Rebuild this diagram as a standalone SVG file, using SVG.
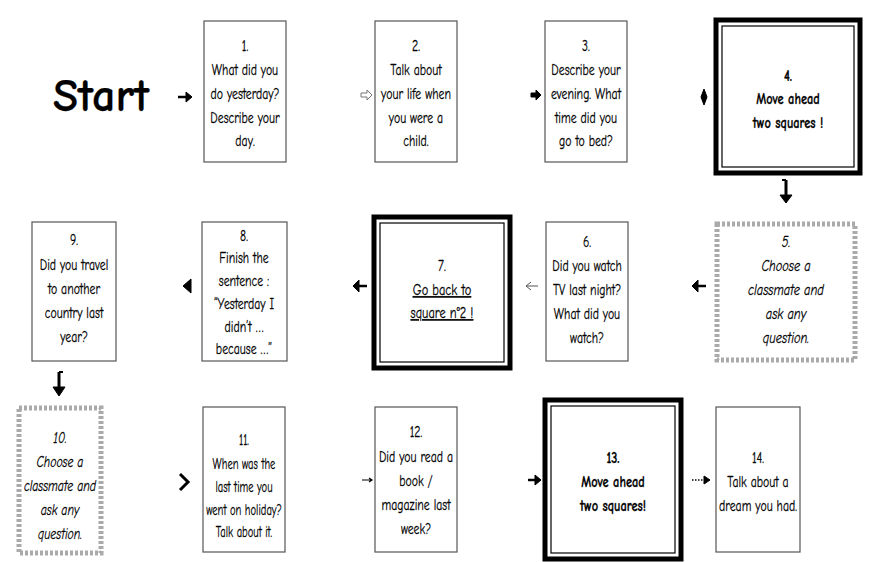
<svg xmlns="http://www.w3.org/2000/svg" width="881" height="562" viewBox="0 0 881 562">
<defs>
<style>
text{font-family:"Comic Neue","Liberation Sans",sans-serif;font-size:15.5px;fill:#000;text-anchor:middle;stroke:#000;stroke-width:0.25}
.b{fill:#fff;stroke:#555;stroke-width:1.2}
.tk{fill:#fff;stroke:#000;stroke-width:5}
.ti{fill:none;stroke:#000;stroke-width:1.2}
.h{fill:#fff;stroke:#aaa;stroke-width:5;stroke-dasharray:3 2}
.bo{font-weight:bold}
.it{font-style:italic}
.ar{fill:#000;stroke:#000}
</style>
</defs>
<rect width="881" height="562" fill="#fff"/>
<text x="101" y="111" style="font-size:46px;font-weight:bold">Start</text>

<g id="n1"><rect class="b" x="204" y="21" width="82" height="141"/>
<g transform="translate(245,0) scale(0.76,1)"><text x="0" y="51">1.</text><text x="0" y="75">What did you</text><text x="0" y="99">do yesterday?</text><text x="0" y="123">Describe your</text><text x="0" y="146">day.</text></g></g>
<g id="n2"><rect class="b" x="375" y="21" width="82" height="141"/>
<g transform="translate(416,0) scale(0.76,1)"><text x="0" y="51">2.</text><text x="0" y="75">Talk about</text><text x="0" y="99">your life when</text><text x="0" y="123">you were a</text><text x="0" y="146">child.</text></g></g>
<g id="n3"><rect class="b" x="545" y="21" width="82" height="141"/>
<g transform="translate(586,0) scale(0.76,1)"><text x="0" y="51">3.</text><text x="0" y="75">Describe your</text><text x="0" y="99">evening. What</text><text x="0" y="123">time did you</text><text x="0" y="146">go to bed?</text></g></g>
<g id="n4"><rect class="tk" x="716" y="20" width="144" height="153"/><rect class="ti" x="722" y="26" width="132" height="141"/>
<g transform="translate(788,0) scale(0.8,1)"><text class="bo" x="0" y="81">4.</text><text class="bo" x="0" y="104">Move ahead</text><text class="bo" x="0" y="128">two squares !</text></g></g>

<g id="n5"><rect class="h" x="717" y="224" width="138" height="136"/>
<g transform="translate(786,0) scale(0.8,1)"><text class="it" x="0" y="247">5.</text><text class="it" x="0" y="271">Choose a</text><text class="it" x="0" y="295">classmate and</text><text class="it" x="0" y="319">ask any</text><text class="it" x="0" y="343">question.</text></g></g>
<g id="n6"><rect class="b" x="546" y="222" width="82" height="139"/>
<g transform="translate(587,0) scale(0.76,1)"><text x="0" y="247">6.</text><text x="0" y="271">Did you watch</text><text x="0" y="295">TV last night?</text><text x="0" y="319">What did you</text><text x="0" y="343">watch?</text></g></g>
<g id="n7"><rect class="tk" x="374" y="217" width="136" height="151"/><rect class="ti" x="380" y="223" width="124" height="139"/>
<g transform="translate(442,0) scale(0.8,1)"><text x="0" y="271">7.</text><text x="0" y="295" text-decoration="underline">Go back to</text><text x="0" y="318" text-decoration="underline">square n°2 !</text></g></g>
<g id="n8"><rect class="b" x="202" y="222" width="85" height="139"/>
<g transform="translate(244,0) scale(0.76,1)" style="font-size:14px"><text x="0" y="241">8.</text><text x="0" y="263">Finish the</text><text x="0" y="286">sentence :</text><text x="0" y="309">“Yesterday I</text><text x="0" y="332">didn’t …</text><text x="0" y="354">because …”</text></g></g>
<g id="n9"><rect class="b" x="32" y="222" width="84" height="139"/>
<g transform="translate(74,0) scale(0.76,1)"><text x="0" y="245">9.</text><text x="0" y="270">Did you travel</text><text x="0" y="294">to another</text><text x="0" y="318">country last</text><text x="0" y="342">year?</text></g></g>

<g id="n10"><rect class="h" x="19" y="408" width="82" height="145"/>
<g transform="translate(60,0) scale(0.76,1)"><text class="it" x="0" y="443">10.</text><text class="it" x="0" y="467">Choose a</text><text class="it" x="0" y="491">classmate and</text><text class="it" x="0" y="515">ask any</text><text class="it" x="0" y="539">question.</text></g></g>
<g id="n11"><rect class="b" x="203" y="407" width="82" height="145"/>
<g transform="translate(244,0) scale(0.68,1)"><text x="0" y="445">11.</text><text x="0" y="469">When was the</text><text x="0" y="492">last time you</text><text x="0" y="515">went on holiday?</text><text x="0" y="537">Talk about it.</text></g></g>
<g id="n12"><rect class="b" x="375" y="407" width="82" height="145"/>
<g transform="translate(416,0) scale(0.76,1)"><text x="0" y="437">12.</text><text x="0" y="462">Did you read a</text><text x="0" y="486">book /</text><text x="0" y="510">magazine last</text><text x="0" y="534">week?</text></g></g>
<g id="n13"><rect class="tk" x="545" y="400" width="136" height="159"/><rect class="ti" x="551" y="406" width="124" height="147"/>
<g transform="translate(613,0) scale(0.8,1)"><text class="bo" x="0" y="463">13.</text><text class="bo" x="0" y="487">Move ahead</text><text class="bo" x="0" y="511">two squares!</text></g></g>
<g id="n14"><rect class="b" x="716" y="407" width="84" height="145"/>
<g transform="translate(758,0) scale(0.76,1)"><text x="0" y="463">14.</text><text x="0" y="487">Talk about a</text><text x="0" y="511">dream you had.</text></g></g>

<g id="connectors">
<path d="M178 97H189" stroke="#000" stroke-width="2.5"/><path class="ar" d="M186 92L192 97L186 102Z"/>
<path d="M361 93H367V90L372 95L367 100V97H361Z" fill="none" stroke="#777" stroke-width="1"/>
<path class="ar" d="M531 93H536V90L541 95L536 100V97H531Z"/>
<path class="ar" d="M701 97L704 89L707 97L704 105Z"/>
<path d="M786 180V197" stroke="#000" stroke-width="3"/><path d="M782 180H786" stroke="#000" stroke-width="2"/><path class="ar" d="M780 195H792L786 203Z"/>
<path d="M693 286H706" stroke="#000" stroke-width="2.5"/><path class="ar" d="M698 280L692 286L698 292Z"/>
<path d="M526 286H538M531 282L526 286L531 290" fill="none" stroke="#555" stroke-width="1"/>
<path d="M354 286H367" stroke="#000" stroke-width="2.5"/><path class="ar" d="M359 280L353 286L359 292Z"/>
<path class="ar" d="M191 279V293L183 286Z"/>
<path d="M59 372V389" stroke="#000" stroke-width="3"/><path d="M59 372H63" stroke="#000" stroke-width="2"/><path class="ar" d="M53 387H65L59 396Z"/>
<path d="M180 474L188 482L180 490" fill="none" stroke="#000" stroke-width="3"/>
<path d="M362 480H372M369 478L372 480L369 482" fill="none" stroke="#000" stroke-width="1.2"/>
<path d="M528 480H538" stroke="#000" stroke-width="2.5"/><path class="ar" d="M535 475L541 480L535 485Z"/>
<path d="M692 480H705" stroke="#000" stroke-width="1.5" stroke-dasharray="1.5 1.5"/><path class="ar" d="M704 476L710 480L704 484Z"/>
</g>
</svg>
